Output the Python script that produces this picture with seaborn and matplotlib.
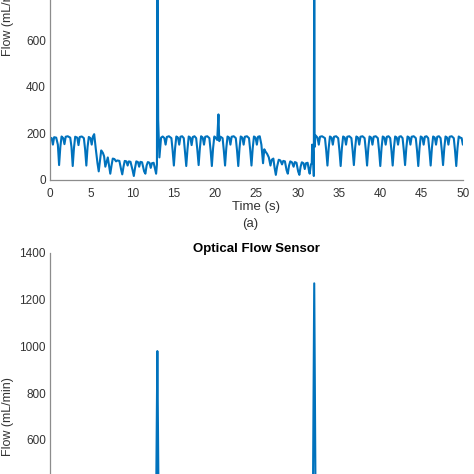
import numpy as np
import pandas as pd
import matplotlib
matplotlib.use("Agg")
import matplotlib.pyplot as plt
import seaborn as sns

# --- top panel (a): flow signal ---
t_high1 = [0.0, 0.2, 0.35, 0.5, 0.75, 0.95, 1.1, 1.25, 1.4, 1.6, 1.75, 1.9, 2.15, 2.45, 2.6,
           2.75, 2.9, 3.05, 3.3, 3.45, 3.6, 3.85, 4.1, 4.25, 4.4, 4.55, 4.7, 4.9, 5.05, 5.2, 5.35]
f_high1 = [180, 178, 150, 182, 180, 150, 62, 140, 185, 178, 152, 184, 186, 180, 140,
           58, 135, 184, 180, 148, 183, 185, 178, 130, 60, 140, 183, 178, 150, 185, 195]

t_low1 = [5.55, 5.75, 5.9, 6.05, 6.2, 6.4, 6.55, 6.7, 6.85, 7.0, 7.15, 7.3, 7.45, 7.6, 7.8,
          8.0, 8.15, 8.4, 8.6, 8.75, 8.9, 9.05, 9.25, 9.4, 9.55, 9.75, 10.0, 10.15, 10.3,
          10.45, 10.65, 10.8, 10.95, 11.15, 11.4, 11.55, 11.7, 11.85, 12.05, 12.2, 12.35,
          12.55, 12.75, 12.85, 12.95]
f_low1 = [130, 70, 35, 80, 125, 115, 100, 55, 75, 95, 60, 25, 60, 90, 88,
          78, 82, 80, 45, 22, 55, 80, 78, 60, 78, 76, 40, 15, 50,
          78, 75, 55, 76, 74, 35, 25, 60, 75, 72, 50, 70,
          72, 40, 25, 65]

t_spike1 = [13.0, 13.1, 13.25, 13.45]
f_spike1 = [1100, 255, 95, 180]

t_high2 = [13.65, 13.85, 14.0, 14.15, 14.4, 14.7, 14.85, 15.0, 15.15, 15.3, 15.5, 15.65, 15.8,
           16.0, 16.2, 16.35, 16.5, 16.65, 16.8, 17.0, 17.15, 17.3, 17.5, 17.7, 17.85, 18.0,
           18.15, 18.3, 18.5, 18.65, 18.8, 19.05, 19.3, 19.45, 19.6, 19.75, 19.9, 20.1, 20.25,
           20.4, 20.5, 20.65, 20.9, 21.05, 21.2, 21.35, 21.5, 21.7, 21.85, 22.0, 22.25, 22.5,
           22.65, 22.8, 22.95, 23.1, 23.3, 23.45, 23.6, 23.85, 24.1, 24.25, 24.4, 24.55, 24.7,
           24.9, 25.05, 25.2, 25.4]
f_high2 = [185, 178, 150, 183, 186, 178, 125, 60, 135, 185, 180, 150, 184,
           186, 178, 120, 58, 130, 185, 180, 148, 183, 186, 178, 125, 62,
           135, 186, 180, 150, 184, 186, 178, 125, 58, 135, 185, 178, 170,
           280, 165, 184, 178, 125, 60, 135, 185, 180, 150, 184, 186, 178,
           125, 58, 135, 185, 180, 150, 184, 186, 178, 125, 60, 135, 185,
           180, 150, 184, 186]

t_low2 = [25.6, 25.8, 25.95, 26.1, 26.3, 26.5, 26.7, 26.85, 27.05, 27.2, 27.35, 27.5, 27.7,
          27.9, 28.1, 28.25, 28.45, 28.65, 28.8, 28.95, 29.1, 29.3, 29.5, 29.65, 29.85, 30.05,
          30.2, 30.35, 30.5, 30.7, 30.85, 31.0, 31.2, 31.35, 31.45, 31.6, 31.7]
f_low2 = [150, 70, 130, 120, 110, 95, 60, 85, 90, 50, 20, 55, 85,
          82, 65, 80, 78, 40, 25, 60, 78, 74, 55, 75, 72, 35,
          20, 55, 74, 70, 45, 70, 72, 40, 25, 65, 70]

t_spike2 = [31.75, 31.85, 31.95, 32.0, 32.05, 32.15]
f_spike2 = [150, 125, 15, 1100, 140, 190]

t_high3 = [32.4, 32.55, 32.7, 32.95, 33.3, 33.45, 33.6, 33.75, 33.9, 34.1, 34.25, 34.4, 34.65,
           34.9, 35.05, 35.2, 35.35, 35.5, 35.7, 35.85, 36.0, 36.25, 36.5, 36.65, 36.8, 36.95,
           37.1, 37.3, 37.45, 37.6, 37.85, 38.1, 38.25, 38.4, 38.55, 38.7, 38.9, 39.05, 39.2,
           39.45, 39.7, 39.85, 40.0, 40.15, 40.3, 40.5, 40.65, 40.8, 41.0, 41.2, 41.35, 41.5,
           41.65, 41.8, 42.0, 42.15, 42.3, 42.5, 42.7, 42.85, 43.0, 43.15, 43.3, 43.5, 43.65,
           43.8, 44.05, 44.3, 44.45, 44.6, 44.75, 44.9, 45.1, 45.25, 45.4, 45.6, 45.8, 45.95,
           46.1, 46.25, 46.4, 46.6, 46.75, 46.9, 47.1, 47.3, 47.45, 47.6, 47.75, 47.9, 48.1,
           48.25, 48.4, 48.65, 48.9, 49.05, 49.2, 49.35, 49.5, 49.7, 49.85, 50.0]
f_high3 = [180, 150, 184, 186, 178, 125, 60, 135, 185, 180, 150, 184, 186,
           178, 125, 58, 135, 185, 180, 150, 184, 186, 178, 125, 62, 135,
           185, 180, 150, 184, 186, 178, 125, 60, 135, 185, 180, 150, 184,
           186, 178, 125, 58, 135, 185, 180, 150, 184, 186, 178, 125, 60,
           135, 185, 180, 150, 184, 186, 178, 125, 62, 135, 185, 180, 150,
           184, 186, 178, 125, 58, 135, 185, 180, 150, 184, 186, 178, 125,
           60, 135, 185, 180, 150, 184, 186, 178, 125, 62, 135, 185, 180,
           150, 184, 186, 178, 125, 58, 135, 185, 180, 178, 150]

# --- bottom panel (b): optical sensor, only the two spikes are visible ---
t_optical = [0.0, 6.0, 12.8, 13.0, 13.2, 20.0, 31.8, 32.0, 32.2, 40.0, 50.0]
f_optical = [150, 80, 100, 980, 100, 150, 100, 1270, 100, 150, 150]

x_ticks = [0, 5, 10, 15, 20, 25, 30, 35, 40, 45, 50]
y_ticks = [0, 200, 400, 600, 800, 1000, 1200, 1400]

LINE = "#0072BD"
AXIS = "#8c8c8c"
TEXT = "#333333"

sns.set_theme(style="white")
plt.rcParams["font.family"] = ["Liberation Sans", "DejaVu Sans"]
plt.rcParams.update({
    "xtick.direction": "in", "ytick.direction": "in",
    "xtick.major.size": 3.5, "ytick.major.size": 3.5,
    "xtick.color": AXIS, "ytick.color": AXIS,
    "xtick.labelcolor": TEXT, "ytick.labelcolor": TEXT,
    "xtick.labelsize": 8.5, "ytick.labelsize": 8.5,
    "axes.edgecolor": AXIS, "axes.linewidth": 0.9,
})

top = pd.DataFrame({
    "time": t_high1 + t_low1 + t_spike1 + t_high2 + t_low2 + t_spike2 + t_high3,
    "flow": f_high1 + f_low1 + f_spike1 + f_high2 + f_low2 + f_spike2 + f_high3,
})
bottom = pd.DataFrame({"time": t_optical, "flow": f_optical})

fig = plt.figure(figsize=(4.74, 4.74), dpi=100)
ax_a = fig.add_axes([0.1055, 0.6213, 0.871, 0.6867])
ax_b = fig.add_axes([0.1055, -0.2236, 0.871, 0.6899])

for ax, df in [(ax_a, top), (ax_b, bottom)]:
    sns.lineplot(data=df, x="time", y="flow", ax=ax, sort=False, estimator=None,
                 color=LINE, linewidth=1.5)
    ax.set_xlim(0, 50)
    ax.set_ylim(0, 1400)
    ax.set_xticks(x_ticks)
    ax.set_yticks(y_ticks)
    sns.despine(ax=ax)
    ax.tick_params(axis="y", pad=3)
    ax.tick_params(axis="x", pad=6)
    ax.set_ylabel("Flow (mL/min)", fontsize=9, color=TEXT, labelpad=4)

ax_a.set_xlabel("Time (s)", fontsize=9.5, color=TEXT, labelpad=1)
fig.text(250 / 474, 1 - 224 / 474, "(a)", fontsize=9.5, color=TEXT, ha="center", va="center")
ax_b.set_xlabel("")
ax_b.set_title("Optical Flow Sensor", fontsize=9.5, fontweight="bold", color="black", pad=1)

fig.savefig("out.png", dpi=100)
